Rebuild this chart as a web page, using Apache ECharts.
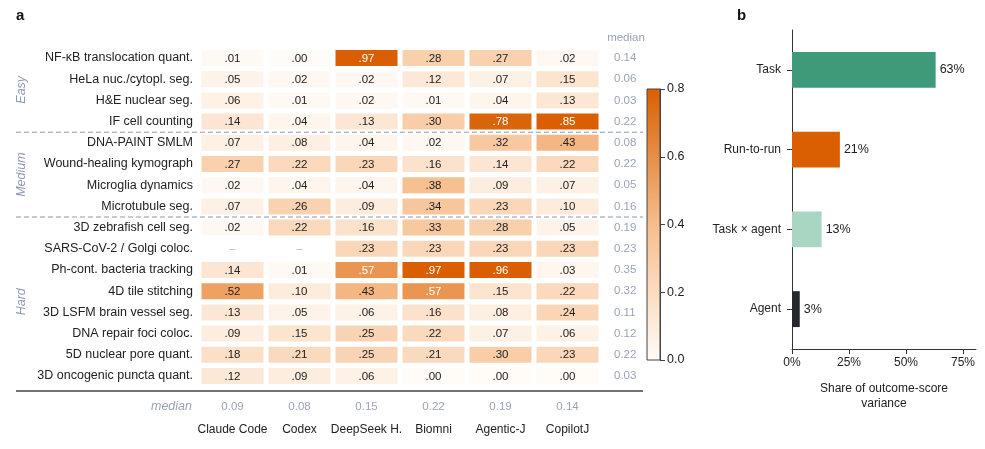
<!DOCTYPE html>
<html>
<head>
<meta charset="utf-8">
<script src="https://cdn.jsdelivr.net/npm/echarts@6/dist/echarts.min.js"></script>
<style>
  html, body { margin: 0; padding: 0; background: #fff; }
  #chart { width: 985px; height: 449px; }
</style>
</head>
<body>
<div id="chart"></div>
<script>
// panel a: per-task outcome-score variance by agent
const tasks = [
  'NF-κB translocation quant.', 'HeLa nuc./cytopl. seg.', 'H&E nuclear seg.', 'IF cell counting',
  'DNA-PAINT SMLM', 'Wound-healing kymograph', 'Microglia dynamics', 'Microtubule seg.',
  '3D zebrafish cell seg.', 'SARS-CoV-2 / Golgi coloc.', 'Ph-cont. bacteria tracking', '4D tile stitching',
  '3D LSFM brain vessel seg.', 'DNA repair foci coloc.', '5D nuclear pore quant.', '3D oncogenic puncta quant.'
];
const agents = ['Claude Code', 'Codex', 'DeepSeek H.', 'Biomni', 'Agentic-J', 'CopilotJ'];
const claudeCode = [0.01, 0.05, 0.06, 0.14, 0.07, 0.27, 0.02, 0.07, 0.02, null, 0.14, 0.52, 0.13, 0.09, 0.18, 0.12];
const codex      = [0.00, 0.02, 0.01, 0.04, 0.08, 0.22, 0.04, 0.26, 0.22, null, 0.01, 0.10, 0.05, 0.15, 0.21, 0.09];
const deepseek   = [0.97, 0.02, 0.02, 0.13, 0.04, 0.23, 0.04, 0.09, 0.16, 0.23, 0.57, 0.43, 0.06, 0.25, 0.25, 0.06];
const biomni     = [0.28, 0.12, 0.01, 0.30, 0.02, 0.16, 0.38, 0.34, 0.33, 0.23, 0.97, 0.57, 0.16, 0.22, 0.21, 0.00];
const agenticJ   = [0.27, 0.07, 0.04, 0.78, 0.32, 0.14, 0.09, 0.23, 0.28, 0.23, 0.96, 0.15, 0.08, 0.07, 0.30, 0.00];
const copilotJ   = [0.02, 0.15, 0.13, 0.85, 0.43, 0.22, 0.07, 0.10, 0.05, 0.23, 0.03, 0.22, 0.24, 0.06, 0.23, 0.00];
const rowMedian = [0.14, 0.06, 0.03, 0.22, 0.08, 0.22, 0.05, 0.16, 0.19, 0.23, 0.35, 0.32, 0.11, 0.12, 0.22, 0.03];
const colMedian = [0.09, 0.08, 0.15, 0.22, 0.19, 0.14];
const groups = ['Easy', 'Medium', 'Hard'];
const groupSizes = [4, 4, 8];

// panel b: variance decomposition
const components = ['Task', 'Run-to-run', 'Task × agent', 'Agent'];
const shares = [63, 21, 13, 3.4];
const shareTicks = [0, 25, 50, 75];

const FONT = '"Liberation Sans", Arial, sans-serif';
const rampColors = ['#fffbf7', '#f6bd8c', '#d95f02'];
const barColors = ['#3e9a78', '#d95f02', '#a9d6c2', '#25292d'];
const GRAY = '#9aa3b5';
const GROUP_GRAY = '#8e9ab0';

const columns = [claudeCode, codex, deepseek, biomni, agenticJ, copilotJ];
const cells = [];
columns.forEach((col, c) => {
  col.forEach((v, r) => cells.push([c, r, v]));
});

function fmt (v) {
  return v.toFixed(2).replace(/^0/, '');
}

const chart = echarts.init(document.getElementById('chart'));
const option = {
  animation: false,
  textStyle: { fontFamily: FONT },
  grid: [
    { left: 199, top: 47.4, width: 402, height: 339.2 },
    { left: 792, top: 30, width: 184, height: 319 },
    {
      left: 647, top: 89, width: 13, height: 271, show: true,
      borderColor: '#444', borderWidth: 1,
      backgroundColor: {
        type: 'linear', x: 0, y: 1, x2: 0, y2: 0,
        colorStops: rampColors.map((c, i) => ({ offset: i / (rampColors.length - 1), color: c }))
      }
    }
  ],
  visualMap: {
    show: false,
    type: 'continuous',
    seriesIndex: 0,
    dimension: 2,
    min: 0,
    max: 0.8,
    inRange: { color: rampColors }
  },
  xAxis: [
    {
      gridIndex: 0, type: 'category', data: agents, position: 'bottom',
      axisLine: { show: false }, axisTick: { show: false }, splitLine: { show: false },
      axisLabel: { interval: 0, margin: 14, fontSize: 11.5, color: GRAY, formatter: (v, i) => colMedian[i].toFixed(2) }
    },
    {
      gridIndex: 0, type: 'category', data: agents, position: 'bottom', offset: 24,
      axisLine: { show: false }, axisTick: { show: false },
      axisLabel: { interval: 0, margin: 13, fontSize: 12, color: '#222' }
    },
    {
      gridIndex: 1, type: 'value', min: 0, max: 80.7,
      axisLine: { show: true, onZero: false, lineStyle: { color: '#333' } },
      axisTick: { show: true, inside: false, length: 5, customValues: shareTicks, lineStyle: { color: '#333' } },
      axisLabel: { margin: 8, fontSize: 12, color: '#222', customValues: shareTicks, formatter: v => v + '%' },
      splitLine: { show: false },
      name: 'Share of outcome-score\nvariance', nameLocation: 'middle', nameGap: 32,
      nameTextStyle: { fontSize: 12, color: '#222', lineHeight: 15 }
    },
    { gridIndex: 2, type: 'value', min: 0, max: 1, show: false }
  ],
  yAxis: [
    {
      gridIndex: 0, type: 'category', data: tasks, inverse: true,
      axisLine: { show: false }, axisTick: { show: false }, splitLine: { show: false },
      axisLabel: { interval: 0, margin: 6, fontSize: 12.5, color: '#222' }
    },
    {
      gridIndex: 0, type: 'category', data: tasks, inverse: true, position: 'right',
      axisLine: { show: false }, axisTick: { show: false },
      axisLabel: { interval: 0, margin: 13, fontSize: 11.5, color: GRAY, formatter: (v, i) => rowMedian[i].toFixed(2) }
    },
    {
      gridIndex: 1, type: 'category', data: components, inverse: true,
      axisLine: { show: true, onZero: false, lineStyle: { color: '#333' } },
      axisTick: { show: true, inside: false, length: 5, alignWithLabel: true, lineStyle: { color: '#333' } },
      axisLabel: { margin: 11, fontSize: 12, color: '#222' }
    },
    {
      gridIndex: 2, type: 'value', min: 0, max: 0.8, interval: 0.2, position: 'right',
      axisLine: { show: true, onZero: false, lineStyle: { color: '#444' } },
      axisTick: { show: true, inside: false, length: 5, lineStyle: { color: '#444' } },
      axisLabel: { margin: 7, fontSize: 12.5, color: '#222', formatter: v => v.toFixed(1) },
      splitLine: { show: false }
    }
  ],
  series: [
    {
      type: 'custom',
      xAxisIndex: 0,
      yAxisIndex: 0,
      data: cells,
      renderItem: function (params, api) {
        const v = api.value(2);
        const c = api.coord([api.value(0), api.value(1)]);
        const s = api.size([1, 1]);
        const w = s[0] - 5;
        const h = s[1] - 5.2;
        const missing = v === null || isNaN(v);
        const children = [];
        if (!missing) {
          children.push({
            type: 'rect',
            shape: { x: c[0] - w / 2, y: c[1] - h / 2, width: w, height: h },
            style: { fill: api.visual('color') }
          });
        }
        children.push({
          type: 'text',
          style: {
            x: c[0], y: c[1] + 0.5,
            text: missing ? '–' : fmt(v),
            align: 'center', verticalAlign: 'middle',
            fill: missing ? '#b4bac6' : (v > 0.55 ? '#fff' : '#222'),
            font: '11.5px ' + FONT
          }
        });
        return { type: 'group', children: children };
      }
    },
    {
      type: 'bar',
      xAxisIndex: 2,
      yAxisIndex: 2,
      barWidth: '45%',
      data: shares.map((v, i) => ({ value: v, itemStyle: { color: barColors[i] } })),
      label: {
        show: true, position: 'right', distance: 4,
        fontSize: 12.5, color: '#222',
        formatter: p => Math.round(p.value) + '%'
      }
    }
  ]
};
chart.setOption(option);

// decorations placed from the heatmap's own axis
function rowY (i) {
  return chart.convertToPixel({ yAxisIndex: 0 }, i);
}
const half = (rowY(1) - rowY(0)) / 2;
const graphics = [
  { type: 'text', left: 16, top: 8, style: { text: 'a', font: 'bold 15px ' + FONT, fill: '#111' } },
  { type: 'text', left: 737, top: 8, style: { text: 'b', font: 'bold 15px ' + FONT, fill: '#111' } },
  { type: 'text', style: { x: 626, y: 38, text: 'median', align: 'center', verticalAlign: 'middle', font: '11.5px ' + FONT, fill: GRAY } },
  { type: 'text', style: { x: 192, y: 407, text: 'median', align: 'right', verticalAlign: 'middle', font: 'italic 12.5px ' + FONT, fill: GRAY } },
  { type: 'line', shape: { x1: 16, y1: 391, x2: 643, y2: 391 }, style: { stroke: '#444', lineWidth: 1.3 } }
];
let start = 0;
groups.forEach((g, gi) => {
  const end = start + groupSizes[gi] - 1;
  const mid = (rowY(start) + rowY(end)) / 2;
  graphics.push({
    type: 'text', x: 22, y: mid, rotation: Math.PI / 2,
    style: { x: 0, y: 0, text: g, align: 'center', verticalAlign: 'middle', font: 'italic 12.5px ' + FONT, fill: GROUP_GRAY }
  });
  if (gi < groups.length - 1) {
    const yb = rowY(end) + half;
    graphics.push({
      type: 'line', shape: { x1: 16, y1: yb, x2: 643, y2: yb },
      style: { stroke: GROUP_GRAY, lineWidth: 1, lineDash: [5, 3] }, z: 10
    });
  }
  start = end + 1;
});
chart.setOption({ graphic: graphics });
</script>
</body>
</html>
